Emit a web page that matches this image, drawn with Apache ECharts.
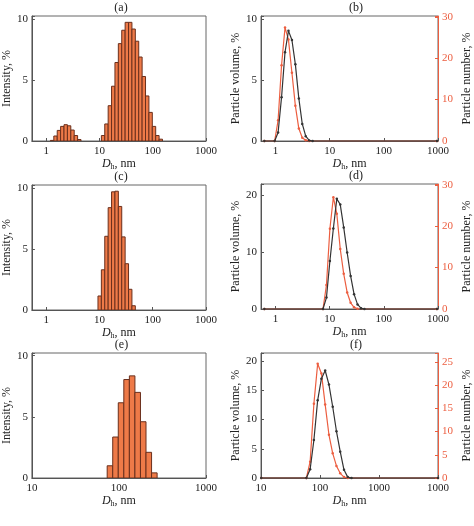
<!DOCTYPE html>
<html>
<head>
<meta charset="utf-8">
<script src="https://cdn.jsdelivr.net/npm/echarts@6/dist/echarts.min.js"></script>
<style>
html, body { margin: 0; padding: 0; background: #fff; }
#main { width: 474px; height: 526px; }
</style>
</head>
<body>
<div id="main"></div>
<script>
// (a) intensity histogram, bin centres in nm
var sizesA = [1.294, 1.499, 1.736, 2.010, 2.328, 2.696, 3.122, 3.615, 4.187,
    11.70, 13.54, 15.69, 18.17, 21.04, 24.36, 28.21, 32.67, 37.84, 43.82,
    50.75, 58.77, 68.06, 78.82, 91.28, 105.7, 122.4, 141.8];
var intensityA = [0.05, 0.41, 0.87, 1.2, 1.34, 1.25, 0.9, 0.45, 0.12,
    0.45, 1.4, 2.9, 4.5, 6.45, 8.0, 9.1, 9.75, 9.75, 9.2,
    8.2, 6.9, 5.3, 3.7, 2.35, 1.2, 0.45, 0.15];

// (b) volume / number distributions
var sizesBVol = [0.6213, 0.9649, 1.117, 1.294, 1.499, 1.736, 2.010, 2.328, 2.696, 3.122, 3.615, 4.187, 4.849, 955.4];
var volumeB = [0, 0, 0.7, 3.6, 7.3, 9.05, 8.3, 6.3, 3.5, 1.4, 0.4, 0.05, 0, 0];
var sizesBNum = [0.6213, 0.9649, 1.117, 1.294, 1.499, 1.736, 2.010, 2.328, 2.696, 3.122, 3.615, 4.187, 955.4];
var numberB = [0, 0, 5, 18.3, 27.4, 24.5, 16.5, 8.5, 3, 0.8, 0.2, 0, 0];

// (c) intensity histogram
var sizesC = [10.10, 11.70, 13.54, 15.69, 18.17, 21.04, 24.36, 28.21, 32.67, 37.84, 43.82];
var intensityC = [1.15, 3.3, 6.05, 8.4, 9.7, 9.75, 8.5, 6.0, 3.8, 1.7, 0.35];

// (d)
var sizesDVol = [0.6213, 7.531, 8.721, 10.10, 11.70, 13.54, 15.69, 18.17, 21.04, 24.36, 28.21, 32.67, 37.84, 43.82, 955.4];
var volumeD = [0, 0, 2.0, 8.4, 14.1, 19.3, 18.3, 14.3, 9.9, 5.8, 2.6, 0.8, 0.15, 0, 0];
var sizesDNum = [0.6213, 7.531, 8.721, 10.10, 11.70, 13.54, 15.69, 18.17, 21.04, 24.36, 28.21, 32.67, 955.4];
var numberD = [0, 0, 5.8, 19.4, 27.0, 23.0, 14.5, 8.5, 4.0, 1.5, 0.4, 0.05, 0];

// (e)
var sizesE = [78.82, 91.28, 105.7, 122.4, 141.8, 164.2, 190.1, 220.2, 255.0];
var intensityE = [1.0, 3.35, 6.15, 8.05, 8.35, 7.0, 4.6, 2.1, 0.42];

// (f)
var sizesFVol = [10.10, 58.77, 68.06, 78.82, 91.28, 105.7, 122.4, 141.8, 164.2, 190.1, 220.2, 255.0, 295.3, 342.0, 10000];
var volumeF = [0, 0, 1.5, 6.5, 13.3, 17.0, 18.4, 16.0, 12.2, 8.0, 4.5, 1.4, 0.15, 0, 0];
var sizesFNum = [10.10, 58.77, 68.06, 78.82, 91.28, 105.7, 122.4, 141.8, 164.2, 190.1, 220.2, 255.0, 295.3, 10000];
var numberF = [0, 0, 3.5, 16.0, 24.6, 22.5, 15.8, 9.3, 5.3, 2.6, 1.0, 0.2, 0, 0];

// tick labels for the log axes (from the first decade on)
var ticks1to1000 = ['1', '10', '100', '1000'];
var ticks10to1000 = ['10', '100', '1000'];
var ticksF = ['10', '100', '1000', '1000'];

var panelTitles = ['(a)', '(b)', '(c)', '(d)', '(e)', '(f)'];

var font = 'Liberation Serif';
var axisGray = '#555';
var red = '#ec5e40';
var binStep = 1.1583; // ratio between neighbouring size classes

function pairs(xs, ys) {
    return xs.map(function (x, i) { return [x, ys[i]]; });
}

var myChart = echarts.init(document.getElementById('main'));

var grids = [
    {left: 26, top: 16, width: 180, height: 125},
    {left: 261, top: 16, width: 180, height: 125},
    {left: 26, top: 185, width: 180, height: 125},
    {left: 261, top: 184, width: 180, height: 125},
    {left: 27, top: 353, width: 179, height: 125},
    {left: 261, top: 353, width: 180, height: 125}
];
grids.forEach(function (g) {
    g.show = true;
    g.borderColor = '#666';
    g.borderWidth = 1;
    g.containLabel = false;
});

function logX(gi, min, max, labels, firstExp) {
    return {
        type: 'log', logBase: 10, gridIndex: gi, min: min, max: max,
        name: '{i|D}{s|h}, nm', nameLocation: 'middle', nameGap: 15,
        nameTextStyle: {
            fontFamily: font, fontSize: 12, color: '#222',
            rich: {
                i: {fontFamily: font, fontSize: 12, fontStyle: 'italic', color: '#222'},
                s: {fontFamily: font, fontSize: 8, color: '#222', padding: [6, 0, 0, 0]}
            }
        },
        axisLine: {lineStyle: {color: axisGray}},
        axisTick: {inside: true, length: 3, lineStyle: {color: axisGray}},
        splitLine: {show: false},
        axisLabel: {
            fontFamily: font, fontSize: 11, color: '#222', margin: 5,
            formatter: function (v) {
                var e = Math.log10(v);
                if (Math.abs(e - Math.round(e)) > 1e-6) return '';
                return labels[Math.round(e) - firstExp] || '';
            }
        }
    };
}

function linY(gi, max, interval, name, side, color, nameGap) {
    return {
        type: 'value', gridIndex: gi, min: 0, max: max, interval: interval,
        position: side,
        name: name, nameLocation: 'middle', nameGap: nameGap,
        nameTextStyle: {fontFamily: font, fontSize: 12, color: '#222'},
        axisLine: {show: true, lineStyle: {color: color}},
        axisTick: {show: true, inside: true, length: 3, lineStyle: {color: color}},
        splitLine: {show: false},
        axisLabel: {
            fontFamily: font, fontSize: 11, color: color === axisGray ? '#222' : color, margin: 4,
            formatter: function (v) { return v % interval === 0 ? v : ''; }
        }
    };
}

function renderBar(params, api) {
    var x = api.value(0), y = api.value(1);
    var half = Math.sqrt(binStep);
    var p0 = api.coord([x / half, y]);
    var p1 = api.coord([x * half, 0]);
    return {
        type: 'rect',
        shape: {x: p0[0], y: p0[1], width: p1[0] - p0[0], height: p1[1] - p0[1]},
        style: {fill: '#ee7a48', stroke: '#6a2f1c', lineWidth: 1}
    };
}

function bars(idx, xs, ys) {
    return {
        type: 'custom', xAxisIndex: idx, yAxisIndex: idx,
        renderItem: renderBar, encode: {x: 0, y: 1},
        data: pairs(xs, ys), clip: true
    };
}

function curve(xi, yi, xs, ys, color) {
    return {
        type: 'line', xAxisIndex: xi, yAxisIndex: yi,
        data: pairs(xs, ys),
        symbol: 'circle', symbolSize: 2.5, showSymbol: true,
        lineStyle: {color: color, width: 1.2},
        itemStyle: {color: color},
        z: color === red ? 3 : 4
    };
}

option = {
    animation: false,
    backgroundColor: '#fff',
    title: panelTitles.map(function (t, i) {
        var g = grids[i];
        return {
            text: t, left: g.left + g.width / 2, top: g.top - 19, textAlign: 'center',
            textStyle: {fontFamily: font, fontSize: 12, fontWeight: 'normal', color: '#222'}
        };
    }),
    grid: grids,
    xAxis: [
        logX(0, 0.54, 1000, ticks1to1000, 0),
        logX(1, 0.54, 1000, ticks1to1000, 0),
        logX(2, 0.54, 1000, ticks1to1000, 0),
        logX(3, 0.54, 1000, ticks1to1000, 0),
        logX(4, 10, 1000, ticks10to1000, 1),
        logX(5, 10, 10000, ticksF, 1)
    ],
    yAxis: [
        linY(0, 10.27, 5, 'Intensity, %', 'left', axisGray, 17),
        linY(1, 10.27, 5, 'Particle volume, %', 'left', axisGray, 17),
        linY(2, 10.26, 5, 'Intensity, %', 'left', axisGray, 17),
        linY(3, 21.9, 10, 'Particle volume, %', 'left', axisGray, 17),
        linY(4, 10.22, 5, 'Intensity, %', 'left', axisGray, 17),
        linY(5, 21.4, 5, 'Particle volume, %', 'left', axisGray, 17),
        linY(1, 30.2, 10, 'Particle number, %', 'right', red, 23),
        linY(3, 30.2, 10, 'Particle number, %', 'right', red, 23),
        linY(5, 26.9, 5, 'Particle number, %', 'right', red, 23)
    ],
    series: [
        bars(0, sizesA, intensityA),
        bars(2, sizesC, intensityC),
        bars(4, sizesE, intensityE),
        curve(1, 6, sizesBNum, numberB, red),
        curve(1, 1, sizesBVol, volumeB, '#333'),
        curve(3, 7, sizesDNum, numberD, red),
        curve(3, 3, sizesDVol, volumeD, '#333'),
        curve(5, 8, sizesFNum, numberF, red),
        curve(5, 5, sizesFVol, volumeF, '#333')
    ]
};

myChart.setOption(option);
</script>
</body>
</html>
